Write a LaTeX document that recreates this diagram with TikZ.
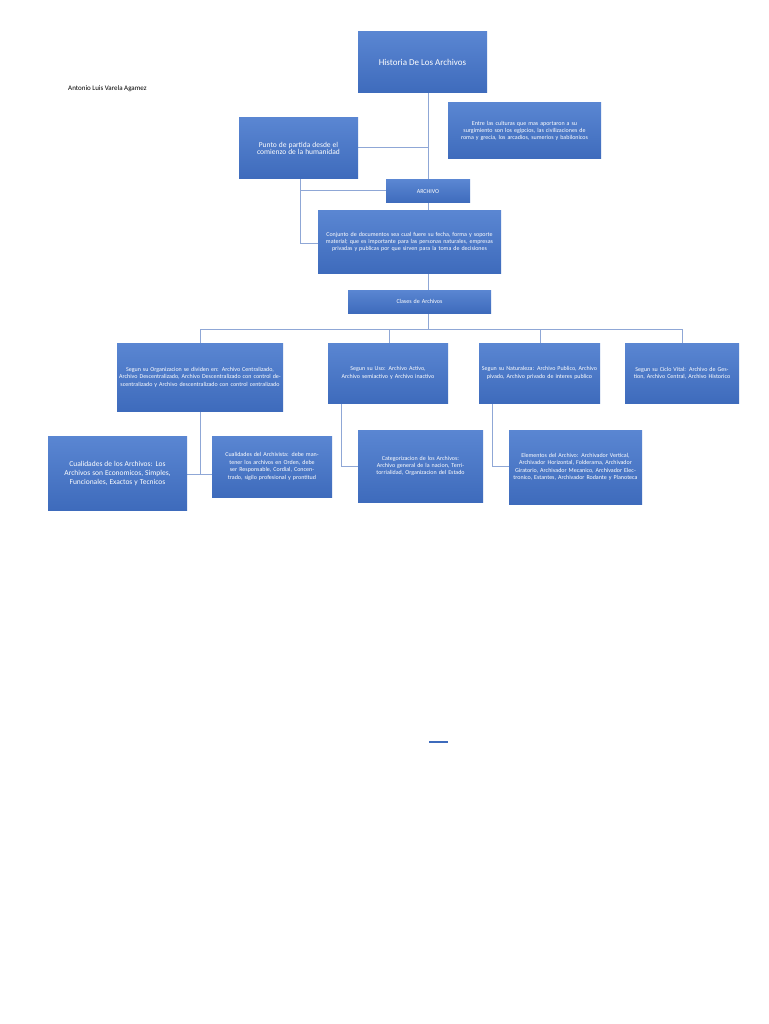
\documentclass[tikz,border=0pt]{standalone}
\usepackage{fontspec}
\setmainfont{Carlito}
\begin{document}
\begin{tikzpicture}[x=1pt,y=-1pt,
  bx/.style={draw=none,top color=boxtop,bottom color=boxbot,text=white,align=center,inner sep=1pt,font=\fontsize{6}{7.4}\selectfont},
  ln/.style={draw=lnc,line width=1pt}]
\definecolor{boxtop}{HTML}{5A86D2}
\definecolor{boxbot}{HTML}{3E6BBC}
\definecolor{lnc}{HTML}{8FA7D6}
\useasboundingbox[fill=white] (0,0) rectangle (768,1024);
\newcommand{\bxat}[6]{\path[bx] (#2,#3) rectangle (#4,#5);
  \node[bx,top color=boxtop,bottom color=boxtop,fill opacity=0,text opacity=1,text width=#4-#2-4,minimum width=#4-#2,minimum height=#5-#3] (#1) at ({(#2+#4)/2},{(#3+#5)/2}) {#6};}
% connectors first
\coordinate (h) at (428,93);
\coordinate (a) at (428,180);
\draw[ln] (428,93) -- (428,180);
\draw[ln] (358,148) -- (428,148);
\draw[ln] (300,179) -- (300,243) -- (318,243);
\draw[ln] (300,191) -- (386,191);
\draw[ln] (428,203) -- (428,211);
\draw[ln] (428,273) -- (428,290);
\draw[ln] (428,313) -- (428,329);
\draw[ln] (200,343) -- (200,329) -- (682,329) -- (682,343);
\draw[ln] (389,329) -- (389,343);
\draw[ln] (540,329) -- (540,343);
\draw[ln] (200,411) -- (200,474);
\draw[ln] (187,474) -- (212,474);
\draw[ln] (341,403) -- (341,466) -- (358,466);
\draw[ln] (492,403) -- (492,466) -- (509,466);
% boxes
\bxat{hist}{358}{32}{487}{93}{\fontsize{9}{11}\selectfont Historia De Los Archivos}
\bxat{entre}{448}{103}{601}{159}{Entre las culturas que mas aportaron a su surgimiento son los egipcios, las civilizaciones de roma y grecia, los arcadios, sumerios y babilonicos}
\bxat{punto}{239}{118}{358}{179}{\fontsize{7.5}{9}\selectfont Punto de partida desde el comienzo de la humanidad}
\bxat{arch}{386}{180}{470}{203}{ARCHIVO}
\bxat{conj}{318}{211}{501}{273}{Conjunto de documentos sea cual fuere su fecha, forma y soporte material; que es importante para las personas naturales, empresas privadas y publicas por que sirven para la toma de decisiones}
\bxat{clases}{348}{290}{491}{313}{Clases de Archivos}
\bxat{org}{117}{343}{283}{411}{Segun su Organizacion se dividen en: Archivo Centralizado, Archivo Descentralizado, Archivo Descentralizado con control descentralizado y Archivo descentralizado con control centralizado}
\bxat{uso}{328}{343}{448}{403}{Segun su Uso: Archivo Activo, Archivo semiactivo y Archivo inactivo\\[10pt]}
\bxat{nat}{479}{343}{600}{403}{Segun su Naturaleza: Archivo Publico, Archivo pivado, Archivo privado de interes publico\\[10pt]}
\bxat{ciclo}{625}{343}{739}{403}{Segun su Ciclo Vital: Archivo de Gestion, Archivo Central, Archivo Historico\\[10pt]}
\bxat{cual}{48}{436}{187}{510}{\fontsize{7.5}{9}\selectfont Cualidades de los Archivos: Los Archivos son Economicos, Simples, Funcionales, Exactos y Tecnicos\\[8pt]}
\bxat{cuala}{212}{436}{332}{497}{Cualidades del Archivista: debe mantener los archivos en Orden, debe ser Responsable, Cordial, Concentrado, sigilo profesional y prontitud}
\bxat{cat}{358}{430}{483}{502}{Categorizacion de los Archivos: Archivo general de la nacion, Territorrialidad, Organizacion del Estado}
\bxat{elem}{509}{430}{642}{504}{Elementos del Archivo: Archivador Vertical, Archivador Horizontal, Folderama, Archivador Giratorio, Archivador Mecanico, Archivador Electronico, Estantes, Archivador Rodante y Planoteca}
\node[anchor=west,font=\fontsize{7}{8}\selectfont,inner sep=0pt] (autor) at (68,89) {Antonio Luis Varela Agamez};
\draw[draw=boxbot,line width=1.2pt] (429,742) -- (448,742);
\end{tikzpicture}
\end{document}
